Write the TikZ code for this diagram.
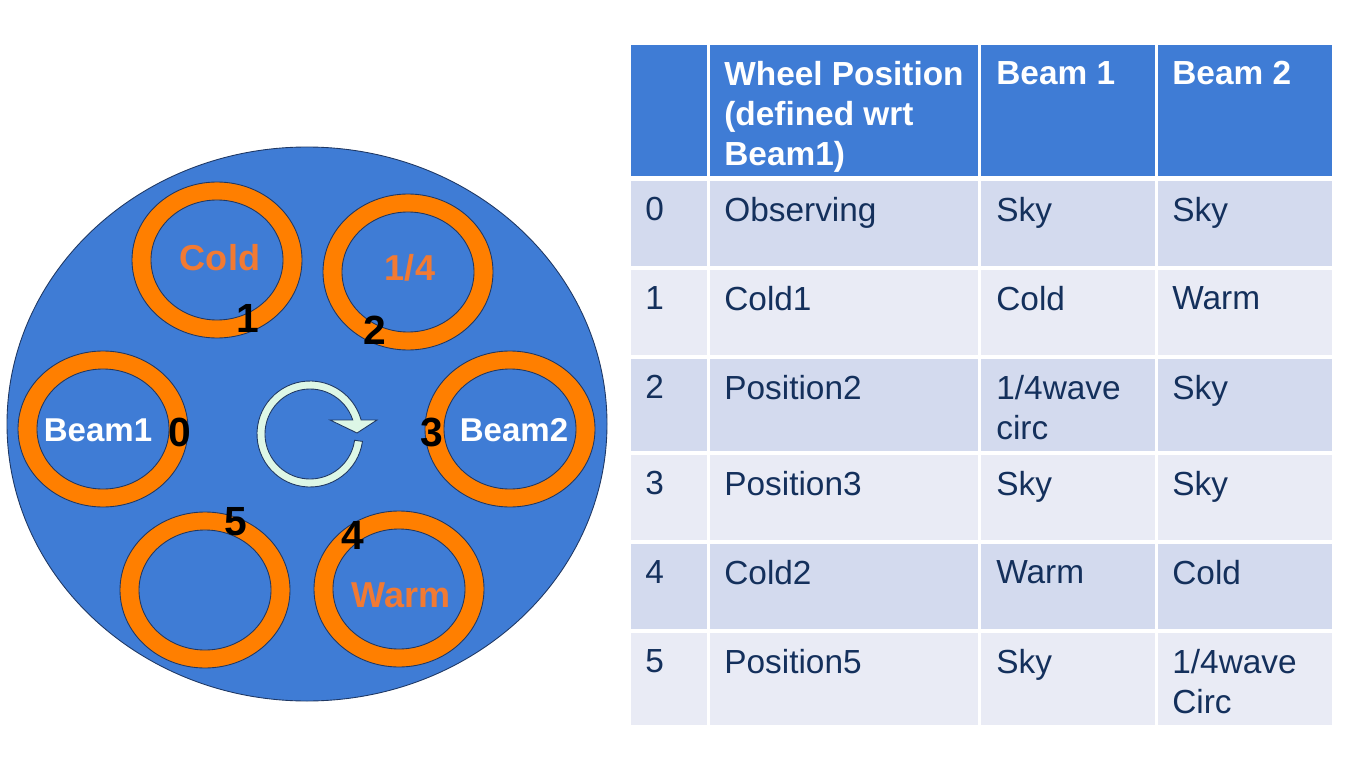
\documentclass[tikz,border=0pt]{standalone}
\usepackage{fontspec}
\setmainfont{Liberation Sans}
\usetikzlibrary{calc}
\usepackage{xcolor}
\definecolor{wheelBlue}{HTML}{3F7CD5}
\definecolor{wheelEdge}{HTML}{1F3864}
\definecolor{ringOrange}{HTML}{FF7F00}
\definecolor{labelOrange}{HTML}{F27A32}
\definecolor{arrowMint}{HTML}{DDF7E6}
\definecolor{rowDark}{HTML}{D3DAEE}
\definecolor{rowLight}{HTML}{E9EBF5}
\definecolor{cellText}{HTML}{14305C}

\begin{document}
\begin{tikzpicture}[x=0.02cm,y=-0.02cm]
\tikzstyle{ring}=[draw=wheelEdge,line width=.5pt,fill=ringOrange,even odd rule]
\tikzstyle{inlabel}=[inner sep=0pt,font=\fontsize{20.5}{24}\selectfont\bfseries,text=labelOrange]
\tikzstyle{beamlabel}=[inner sep=0pt,font=\fontsize{18.8}{22}\selectfont\bfseries,text=white]
\tikzstyle{posnum}=[inner sep=0pt,font=\fontsize{23.2}{26}\selectfont\bfseries,text=black]
\tikzstyle{celltxt}=[anchor=north west,inner sep=0pt,align=left,font=\fontsize{19}{22.7}\selectfont,text=cellText]
\tikzstyle{headtxt}=[celltxt,font=\fontsize{19}{22.7}\selectfont\bfseries,text=white]
\useasboundingbox (0,0) rectangle (1345,760);

% filter wheel
\draw[draw=wheelEdge,line width=.5pt,fill=wheelBlue] (307,424) ellipse [x radius=300,y radius=277];
\foreach \n/\x/\y in {beamA/103/429,cold/217/260,quarter/408/272,beamB/510/429,warm/399/589,empty/205/590}
  {\coordinate (\n) at (\x,\y);
   \draw[ring] (\n) ellipse [x radius=85,y radius=78] (\n) ellipse [x radius=66,y radius=60];}

\node[inlabel] (lcold) at (220,258) {Cold};
\node[inlabel] (lquarter) at (410,268) {1/4};
\node[inlabel] (lwarm) at (401,595) {Warm};
\node[beamlabel] (lbeamA) at (98,430) {Beam1};
\node[beamlabel] (lbeamB) at (514,430) {Beam2};

\node[posnum] (p0) at (180,432) {0};
\node[posnum] (p1) at (248,318) {1};
\node[posnum] (p2) at (375,330) {2};
\node[posnum] (p3) at (432,432) {3};
\node[posnum] (p4) at (353,535) {4};
\node[posnum] (p5) at (236,522) {5};

% rotation sense
\begin{scope}[shift={(310,434)}]
\draw[draw=wheelEdge,line width=.5pt,fill=arrowMint] (8:53) arc[start angle=8,end angle=344.7,radius=53]
  -- (67,-14) -- (47,-1) -- (20,-14) -- (341.9:45) arc[start angle=341.9,end angle=8,radius=45] -- cycle;
\end{scope}

% table
\foreach \l/\r in {631/707,710/978,981/1155,1158/1332}
  \fill[wheelBlue] (\l,45) rectangle (\r,176);
\node[headtxt] (hpos) at (724,61) {Wheel Position\\(defined wrt\\Beam1)};
\node[headtxt] (hbeamA) at (996,61) {Beam 1};
\node[headtxt] (hbeamB) at (1172,61) {Beam 2};

\foreach \i/\ytop/\ybot/\tone/\p/\ba/\bb in {
  0/181/266/rowDark/Observing/Sky/Sky,
  1/270/355/rowLight/Cold1/Cold/Warm,
  2/359/451/rowDark/Position2/{1/4wave\\circ}/Sky,
  3/455/540/rowLight/Position3/Sky/Sky,
  4/544/629/rowDark/Cold2/Warm/Cold,
  5/633/725/rowLight/Position5/Sky/{1/4wave\\Circ}}
{
  \foreach \l/\r in {631/707,710/978,981/1155,1158/1332}
    \fill[\tone] (\l,\ytop) rectangle (\r,\ybot);
  \node[celltxt] (n\i) at (645,\ytop+16) {\i};
  \node[celltxt] (w\i) at (724,\ytop+16) {\p};
  \node[celltxt] (a\i) at (996,\ytop+16) {\ba};
  \node[celltxt] (b\i) at (1172,\ytop+16) {\bb};
}
\end{tikzpicture}
\end{document}
